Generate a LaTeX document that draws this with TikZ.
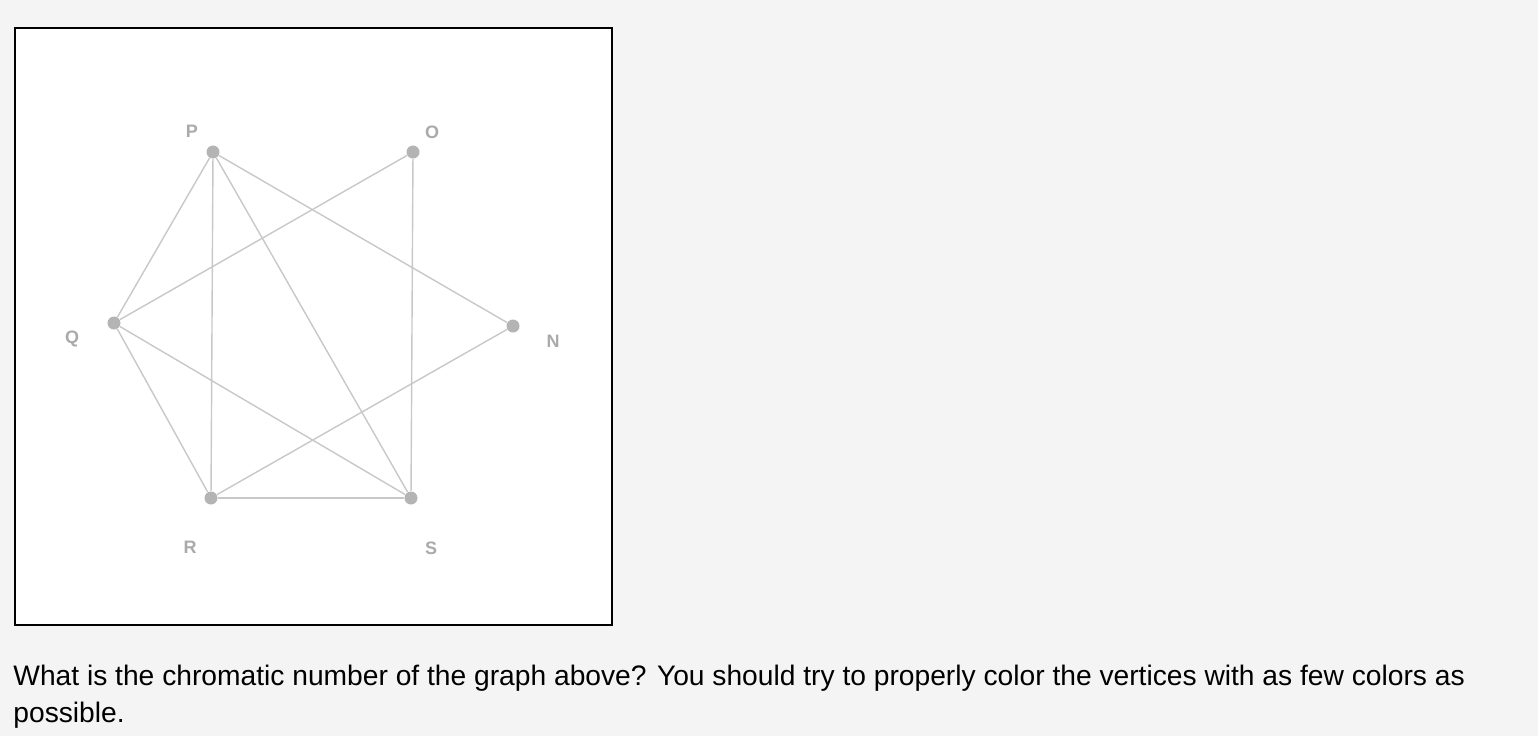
\documentclass[tikz,border=0pt]{standalone}
\usepackage{fontspec}
\setmainfont{Liberation Sans}
\usetikzlibrary{positioning}

\definecolor{pagebg}{HTML}{F4F4F4}
\definecolor{edgegray}{HTML}{C8C8C8}
\definecolor{dotgray}{HTML}{B4B4B4}
\definecolor{labelgray}{HTML}{AAAAAA}

\tikzset{
    vertex/.style={circle, fill=dotgray, inner sep=0pt, minimum size=6.5pt},
    vlabel/.style={text=labelgray, font=\bfseries\fontsize{9}{9}\selectfont},
    edge/.style={draw=edgegray, line width=0.7pt},
    question/.style={anchor=base west, inner sep=0pt, font=\fontsize{14.1}{16}\selectfont}
}

\begin{document}
\begin{tikzpicture}[x=0.5pt, y=-0.5pt]
                % page and frame
                \fill[pagebg] (0,0) rectangle (1538,736);
                \useasboundingbox (0,0) rectangle (1538,736);
                \node (frame) [draw=black, fill=white, line width=0.8pt, minimum width=298.5pt, minimum height=298.5pt, anchor=north west, inner sep=0pt] at (14,27) {};

                % Vertices
                \node (P) [vertex] at (213,152) {};
                \node (O) [vertex] at (413,152) {};
                \node (Q) [vertex] at (114,323) {};
                \node (N) [vertex] at (513,326) {};
                \node (R) [vertex] at (211,498) {};
                \node (S) [vertex] at (411,498) {};

                % Vertex labels
                \node (labP) [vlabel] at (192,131) {P};
                \node (labO) [vlabel] at (432,132) {O};
                \node (labQ) [vlabel] at (72,339) {Q};
                \node (labN) [vlabel] at (553,341) {N};
                \node (labR) [vlabel] at (190,547) {R};
                \node (labS) [vlabel] at (431,548) {S};

                % Edges
                \draw[edge] (P) -- (Q);
                \draw[edge] (P) -- (R);
                \draw[edge] (P) -- (S);
                \draw[edge] (P) -- (N);
                \draw[edge] (O) -- (Q);
                \draw[edge] (O) -- (S);
                \draw[edge] (Q) -- (S);
                \draw[edge] (Q) -- (R);
                \draw[edge] (N) -- (R);
                \draw[edge] (R) -- (S);

                % Question text
                \node (line1) [question] at (13,685) {What is the chromatic number of the graph above? You should try to properly color the vertices with as few colors as};
                \node (line2) [question] at (13,722) {possible.};
            \end{tikzpicture}
\end{document}
